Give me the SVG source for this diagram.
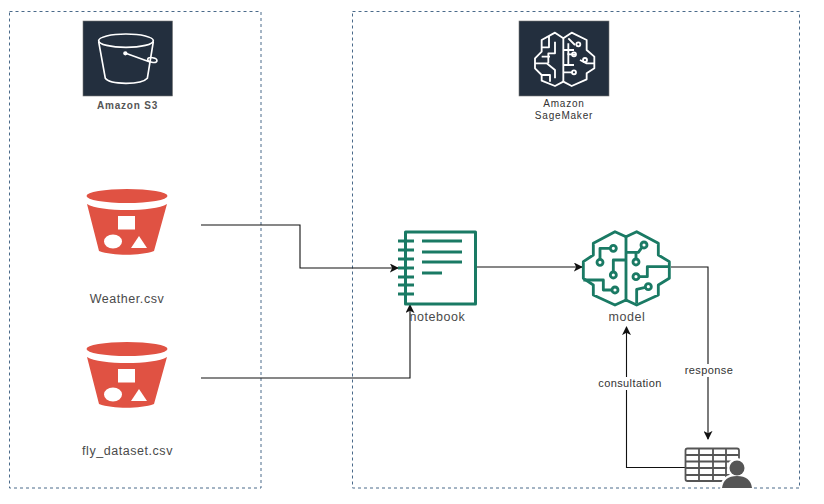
<svg xmlns="http://www.w3.org/2000/svg" width="824" height="504" viewBox="0 0 824 504">
<style>
.box{fill:none;stroke:#4a6a8a;stroke-width:1;stroke-dasharray:3 3}
.edge{fill:none;stroke:#111;stroke-width:1.1}
.lbl{font-family:"Liberation Sans",Arial,sans-serif;font-size:12.500px;fill:#4a4a4a;text-anchor:middle;letter-spacing:.55px}
.small{font-size:11px;fill:#333;letter-spacing:.4px}
.aws{font-family:"Liberation Sans",Arial,sans-serif;font-size:10px;font-weight:bold;fill:#555;text-anchor:middle;letter-spacing:.8px}
.aws2{font-family:"Liberation Sans",Arial,sans-serif;font-size:10px;fill:#333;text-anchor:middle;letter-spacing:.8px}
.dark{fill:#232f3e;stroke:#777;stroke-width:.6}
.wl{fill:none;stroke:#fff;stroke-linejoin:round}
.g{fill:none;stroke:#1a7a64;stroke-linejoin:round}
.tbl{fill:none;stroke:#555;stroke-width:1.800}
</style>
<defs>
<marker id="arr" viewBox="0 0 10 10" refX="9" refY="5" markerWidth="9" markerHeight="9" markerUnits="userSpaceOnUse" orient="auto"><path d="M0 0L10 5L0 10L2.5 5Z" fill="#111"/></marker>
<g id="bucket">
<path d="M87 204C100 212 154 212 167 204L154 251C140 256 113 256 99 251Z" fill="#e05243"/>
<ellipse cx="127" cy="196" rx="40.500" ry="7" fill="#e05243"/>
<rect x="118" y="216" width="17" height="13.500" fill="#fff"/>
<ellipse cx="113" cy="241.500" rx="9" ry="7" fill="#fff"/>
<path d="M139 236L147 248H131Z" fill="#fff"/>
</g>
</defs>
<rect width="824" height="504" fill="#fff"/>
<g id="container-s3"><rect class="box" x="9.500" y="11.500" width="251.500" height="476.500"/></g>
<g id="container-sagemaker"><rect class="box" x="352.500" y="11.500" width="447" height="476.500"/></g>
<g id="connectors">
<path class="edge" d="M201 225H300V268H398" marker-end="url(#arr)"/>
<path class="edge" d="M201 378H410V305" marker-end="url(#arr)"/>
<path class="edge" d="M476 267H582" marker-end="url(#arr)"/>
<path class="edge" d="M671 267H708V439" marker-end="url(#arr)"/>
<path class="edge" d="M686 467.500H626.500V327" marker-end="url(#arr)"/>
</g>
<g id="s3-icon">
<rect class="dark" x="83" y="21" width="89.500" height="75"/>
<g class="wl" transform="translate(60 10) scale(.3333)" stroke-width="5">
<ellipse cx="198" cy="92" rx="82" ry="20"/>
<path d="M116 95L136 205C150 225 245 225 262 205L280 95"/>
<path d="M197 130L270 156"/>
<ellipse cx="277" cy="150" rx="14" ry="7" transform="rotate(10 277 150)"/>
<circle cx="196" cy="130" r="4" fill="#fff"/>
</g>
<text class="aws" x="127.500" y="109">Amazon S3</text>
</g>
<g id="sagemaker-icon">
<rect class="dark" x="519" y="21" width="90" height="75"/>
<g class="wl" transform="translate(500 10) scale(.3333)" stroke-width="5.500">
<path d="M190 85L165 68L125 90V125L105 145V175L125 195V212L165 228L190 215L215 228L260 208V190L283 175V140L260 120V90L215 68Z"/>
<path d="M190 85V215"/>
<path d="M147 78V112H125M165 95V130H145V160M105 160H140L165 180V205M125 140H150M125 195H150V215M190 120H222M190 165H222M205 85L225 105M205 165V130"/>
<circle cx="235" cy="103" r="6"/><circle cx="222" cy="133" r="6"/><circle cx="255" cy="150" r="6"/><circle cx="222" cy="187" r="6"/>
<path d="M190 187H216M228 133H205V100M283 160H260L240 150"/>
</g>
<text class="aws2" x="564" y="107">Amazon</text>
<text class="aws2" x="564" y="119">SageMaker</text>
</g>
<g id="weather"><use href="#bucket"/><text class="lbl" x="127" y="303">Weather.csv</text></g>
<g id="fly"><use href="#bucket" y="153"/><text class="lbl" x="127.500" y="455">fly_dataset.csv</text></g>
<g id="notebook">
<rect class="g" x="405.500" y="232" width="70" height="72" stroke-width="3"/>
<path class="g" stroke-width="2.800" d="M398 241H414M398 250H414M398 259H414M398 268H414M398 277H414M398 285H414M398 294H414M422 241H462M422 252H462M422 262H462M422 273H442"/>
<text class="lbl" x="437.500" y="321">notebook</text>
</g>
<g id="model">
<g class="g" transform="translate(570 220) scale(.3333)" stroke-width="8.500">
<path d="M168 50L135 35L70 70V105L40 125V175L70 195V225L135 255L168 240L200 255L265 225V195L298 175V125L265 105V70L200 35Z"/>
<path d="M168 50V240M120 85H90V118M130 155V120H168M125 210H100V180H40M168 97H205L216 82M198 118V97M208 170H232V140H298M226 202L200 208V250"/>
<circle cx="130" cy="85" r="9"/><circle cx="90" cy="127" r="9"/><circle cx="130" cy="165" r="9"/><circle cx="135" cy="210" r="9"/>
<circle cx="222" cy="75" r="9"/><circle cx="198" cy="126" r="9"/><circle cx="198" cy="170" r="9"/><circle cx="235" cy="200" r="9"/>
</g>
<text class="lbl" x="627" y="321">model</text>
</g>
<g id="edge-labels">
<rect x="596" y="377" width="68" height="13" fill="#fff"/>
<text class="lbl small" x="630" y="387">consultation</text>
<rect x="682" y="364" width="54" height="13" fill="#fff"/>
<text class="lbl small" x="709" y="374">response</text>
</g>
<g id="user-table">
<rect class="tbl" x="685.500" y="448.500" width="53.500" height="32.500" rx="2"/>
<path class="tbl" d="M699 448V481M713 448V481M726 448V481M685 455H739M685 461.500H739M685 468H739M685 475H739"/>
<circle cx="737" cy="468" r="10" fill="#fff"/>
<path d="M720 489C721 478 726 474 737 474C748 474 752 478 753 489Z" fill="#fff"/>
<circle cx="737" cy="468" r="7.500" fill="#555"/>
<path d="M722 488C723 480 728 476 737 476C746 476 751 480 752 488Z" fill="#555"/>
</g>
</svg>
